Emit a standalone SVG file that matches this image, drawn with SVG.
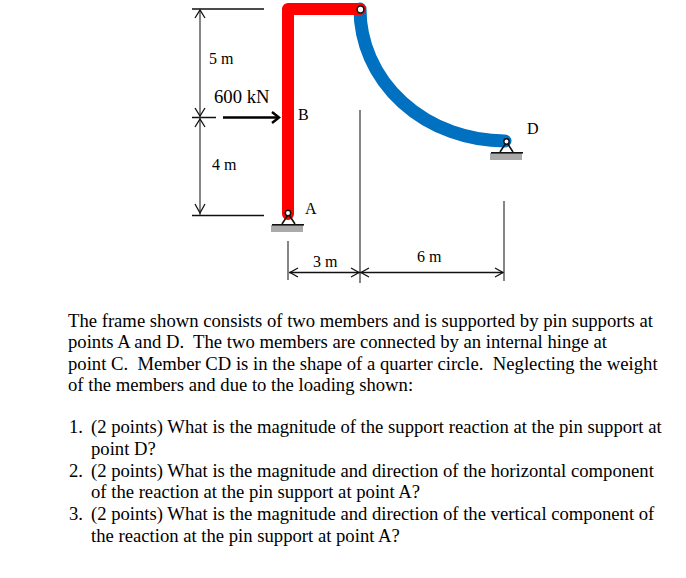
<svg xmlns="http://www.w3.org/2000/svg" width="686" height="578" viewBox="0 0 686 578">
<style>
text{font-family:"Liberation Serif","Times New Roman",serif;fill:#000;white-space:pre}
.d{font-size:16px}
.b{font-size:18.67px}
.l{fill:none;stroke:#444;stroke-width:1.3}
.k{fill:none;stroke:#111;stroke-width:1.3}
.s{fill:none;stroke:#111;stroke-width:1.6}
</style>
<rect width="686" height="578" fill="#fff"/>
<g id="member-CD"><path d="M360 9A145 132 0 0 0 505 141" fill="none" stroke="#0070c0" stroke-width="13" stroke-linecap="round"/></g>
<g id="member-ABC"><path d="M288 214V9H360" fill="none" stroke="#ff0000" stroke-width="12" stroke-linejoin="round" stroke-linecap="round"/></g>
<g id="node-C"><circle cx="360.500" cy="9.500" r="3.400" fill="#fff" stroke="#111" stroke-width="1.500"/></g>
<g id="node-A">
<path d="M282 224L288.500 214L295 224" class="s"/>
<circle cx="288" cy="213" r="2.700" fill="#fff" stroke="#111" stroke-width="1.500"/>
<rect x="271" y="225" width="32" height="7" fill="#aaa"/>
<path d="M272 224.800H304" class="s"/>
<text x="305" y="214" class="d">A</text>
</g>
<g id="node-B"><text x="298" y="120" class="d">B</text></g>
<g id="node-D">
<path d="M500 152L506.500 142L513 152" class="s"/>
<circle cx="506.500" cy="141.500" r="2.700" fill="#fff" stroke="#111" stroke-width="1.500"/>
<rect x="490" y="153" width="32" height="7" fill="#aaa"/>
<path d="M491 152.800H523" class="s"/>
<text x="527" y="134" class="d">D</text>
</g>
<g id="connectors">
<path d="M192 9H264M192 117.500H216M192 215.500H264" class="k"/>
<path d="M200 9V215" class="l"/>
<path d="M195 18L200 10L205 18M195 108L200 116L205 108M195 127L200 119L205 127M195 204L200 213L205 204" class="k"/>
<path d="M223 117.500H278" fill="none" stroke="#000" stroke-width="2.400"/>
<path d="M272 112L279 117.500L272 123" fill="none" stroke="#000" stroke-width="2.400"/>
<path d="M288 241V280M360 110V283M504 201V281" class="l"/>
<path d="M289 272.500H503" class="k"/>
<path d="M298 268L290 272.500L298 277M351 268L359 272.500L351 277M369 268L361 272.500L369 277M495 268L503 272.500L495 277" class="k"/>
</g>
<g id="labels">
<text x="209" y="64" class="d">5 m</text>
<text x="214" y="102.500" style="font-size:18.67px">600 kN</text>
<text x="212" y="170" class="d">4 m</text>
<text x="313" y="267" class="d">3 m</text>
<text x="417" y="262" class="d">6 m</text>
</g>
<g id="question">
<text x="68" y="326.500" class="b">The frame shown consists of two members and is supported by pin supports at</text>
<text x="68" y="347.500" class="b">points A and D.  The two members are connected by an internal hinge at</text>
<text x="68" y="369.500" class="b">point C.  Member CD is in the shape of a quarter circle.  Neglecting the weight</text>
<text x="68" y="390.500" class="b">of the members and due to the loading shown:</text>
<text x="69" y="432.500" class="b">1.</text>
<text x="91" y="432.500" class="b">(2 points) What is the magnitude of the support reaction at the pin support at</text>
<text x="91" y="454.500" class="b">point D?</text>
<text x="69" y="476.500" class="b">2.</text>
<text x="91" y="476.500" class="b">(2 points) What is the magnitude and direction of the horizontal component</text>
<text x="91" y="497.500" class="b">of the reaction at the pin support at point A?</text>
<text x="69" y="519.500" class="b">3.</text>
<text x="91" y="519.500" class="b">(2 points) What is the magnitude and direction of the vertical component of</text>
<text x="91" y="541.500" class="b">the reaction at the pin support at point A?</text>
</g>
</svg>
